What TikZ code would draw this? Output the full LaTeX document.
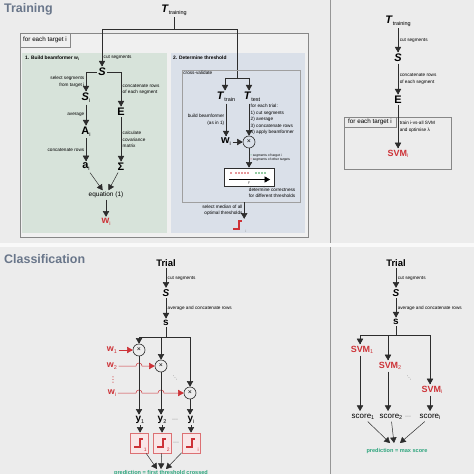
\documentclass[tikz,border=0pt]{standalone}
\usepackage{fontspec}
\setmainfont{Liberation Sans}
\newfontfamily\symfont{DejaVu Sans}
\usetikzlibrary{arrows}

\definecolor{bgc}{RGB}{236,236,236}
\definecolor{innerc}{RGB}{240,240,240}
\definecolor{gapc}{RGB}{249,249,249}
\definecolor{divc}{RGB}{150,150,150}
\definecolor{framec}{RGB}{135,135,135}
\definecolor{greenc}{RGB}{215,227,218}
\definecolor{bluec}{RGB}{218,224,233}
\definecolor{titlec}{RGB}{105,118,138}
\definecolor{wred}{RGB}{205,50,55}
\definecolor{tealc}{RGB}{45,165,125}
\definecolor{dotgreen}{RGB}{40,150,70}
\definecolor{linec}{RGB}{45,45,45}

\newcommand{\subtxt}[1]{\raisebox{-0.35ex}{\fontsize{5.5}{6}\selectfont\mdseries\upshape #1}}

\tikzset{
	title/.style = {font = \fontsize{12.5}{13}\selectfont\bfseries, text = titlec, inner sep = 0pt},
	head/.style = {font = \fontsize{4.9}{5.5}\selectfont\bfseries, inner sep = 0pt},
	lbl/.style = {font = \fontsize{4.7}{6.5}\selectfont, inner sep = 1.5pt},
	minilbl/.style = {font = \fontsize{3.3}{4}\selectfont, inner sep = 1.5pt, align = left},
	var/.style = {font = \fontsize{11}{12}\selectfont\bfseries, inner sep = 1.5pt},
	trialvar/.style = {font = \fontsize{9.5}{10}\selectfont\bfseries, inner sep = 1.5pt},
	svm/.style = {font = \fontsize{9}{10}\selectfont\bfseries, text = wred, inner sep = 1.5pt},
	score/.style = {font = \fontsize{8}{9}\selectfont, inner sep = 1.5pt},
	txt/.style = {font = \fontsize{6.5}{7}\selectfont, inner sep = 1.5pt},
	pred/.style = {font = \fontsize{5.6}{6}\selectfont\bfseries, text = tealc, inner sep = 0pt},
	tab/.style = {draw = framec, line width = 0.6pt, font = \fontsize{6.3}{7}\selectfont,
		inner sep = 2pt, anchor = north west},
	loopbox/.style = {draw = framec, line width = 0.6pt, inner sep = 0pt},
	mult/.style = {circle, draw = linec, line width = 0.6pt, minimum size = 12bp, inner sep = 0pt,
		font = \fontsize{7}{7}\selectfont},
	thbox/.style = {draw = wred!70, fill = wred!12, line width = 0.8pt, minimum width = 18bp,
		minimum height = 20bp, inner sep = 0pt},
	arr/.style = {-triangle 60, draw = linec, line width = 0.5pt},
	ln/.style = {draw = linec, line width = 0.5pt},
	ellip/.style = {font = \symfont\fontsize{6}{6}\selectfont, text = black!60, inner sep = 0pt},
	stepfn/.pic = {\draw[wred, line width = 1.2pt] (-5,4) -- (1,4) -- (1,-4) -- (4,-4);}
}

\begin{document}
\begin{tikzpicture}[x = 1bp, y = -1bp]
	\useasboundingbox (0,0) rectangle (474,474);

	% background
	\fill[bgc] (0,0) rectangle (474,474);
	\fill[gapc] (0,243) rectangle (474,247);
	\draw[divc, line width = 1bp] (330,0) -- (330,243) (330,247) -- (330,474);

	\node (training) at (4,9) [title, anchor = west] {Training};
	\node (classification) at (4,259) [title, anchor = west] {Classification};

	% training: beamformer and threshold
	\node (loop1) at (164,135) [loopbox, fill = innerc, minimum width = 288bp, minimum height = 204bp] {};
	\node (tab1) at (loop1.north west) [tab, minimum width = 50bp, minimum height = 14bp] {for each target i};
	\fill[greenc] (22,53) rectangle (167,233);
	\fill[bluec] (171,53) rectangle (305,233);
	\node (build) at (25,58) [head, anchor = west] {1. Build beamformer w\raisebox{-0.3ex}{\fontsize{3.5}{4}\selectfont i}};
	\node (determine) at (173,58) [head, anchor = west] {2. Determine threshold};

	\node (Ttr)  at (174, 10) [var] {\textit{T}\subtxt{training}};
	\coordinate (jt) at (174,29);
	\coordinate (jl) at (102,29);
	\coordinate (jr) at (237,29);
	\coordinate (jm) at (237,78);
	\coordinate (ja) at (225,78);
	\coordinate (jb) at (249,78);
	\draw[ln] (Ttr) -- (jt);
	\draw[ln] (jl) -- (jr) -- (jm);
	\draw[ln] (ja) -- (jb);

	\node (S)   at (102, 72) [var] {\textit{S}};
	\node (Si)  at ( 86, 98) [var] {\textit{S}\subtxt{i}};
	\node (E)   at (121,112) [var] {E};
	\node (Ai)  at ( 86,132) [var] {A\subtxt{i}};
	\node (ai)  at ( 86,167) [var] {a\subtxt{i}};
	\node (Sig) at (121,167) [var] {Σ};
	\node (eq)  at (106,195) [txt] {equation (1)};
	\node (wi)  at (106,222) [var, text = wred, font = \fontsize{10}{11}\selectfont\bfseries] {w\subtxt{i}};

	\path (jl) edge [arr] node[lbl, right, pos = 0.75] {cut segments} (S);
	\draw[arr] (S.west) -| node[lbl, left, pos = 0.75, align = right] {select segments\\from target i} (Si);
	\draw[arr] (S.east) -| node[lbl, right, pos = 0.75, align = left] {concatenate rows\\of each segment} (E);

	\foreach \from/\txt/\to in {Si/average/Ai, Ai/concatenate rows/ai}
		\path (\from) edge [arr] node[lbl, left] {\txt} (\to);
	\path (E) edge [arr] node[lbl, right, align = left] {calculate\\covariance\\matrix} (Sig);

	\foreach \from/\to in {ai/eq, Sig/eq, eq/wi}
		\path (\from) edge [arr] (\to);

	% cross-validation
	\node (cv) at (241,136) [loopbox, draw = framec!80, minimum width = 118bp, minimum height = 132bp] {};
	\node (cvlbl) at (cv.north west) [lbl, anchor = north west] {cross-validate};

	\node (Ttrain) at (226, 97) [var] {\textit{T}\subtxt{train}};
	\node (Ttest)  at (252, 97) [var] {\textit{T}\subtxt{test}};
	\node (wb)     at (226,142) [var] {w\subtxt{i}};
	\node (mult)   at (249,142) [mult] {×};
	\node (thr)    at (249,177) [draw = linec, fill = white, line width = 0.7pt, minimum width = 50bp, minimum height = 18bp] {};
	\node (thrI)   at (238,225) [minimum width = 12bp, minimum height = 12bp, inner sep = 0pt] {};

	\draw[arr] (ja) -- (ja |- Ttrain.north);
	\draw[arr] (jb) -- (jb |- Ttest.north);
	\draw[arr] (Ttrain) -- node[lbl, left, align = right] {build beamformer\\(as in 1)} (wb);
	\draw[arr] (jb |- Ttest.south) -- node[lbl, right, align = left] {for each trial:\\1) cut segments\\2) average\\3) concatenate rows\\4) apply beamformer} (mult);
	\draw[arr] (wb) -- (mult);
	\draw[arr] (mult) -- node[minilbl, right] {{\color{dotgreen}•} segments of target i\\{\color{wred}•} segments of other targets} (thr);

	\foreach \x in {231,236,239,242,245,248}
		\fill[wred] (\x,173) circle (0.8);
	\foreach \x in {256,259,262,265}
		\fill[dotgreen] (\x,173) circle (0.8);
	\draw[-triangle 60, line width = 0.4pt] (229,179.5) -- (270,179.5);
	\node (yax) at (249,183) [minilbl] {y};

	\node (det) at (297,193) [lbl, anchor = east, align = right] {determine correctness\\for different thresholds};
	\draw[arr] (thrI.north east |- cv.south) -- node[lbl, left, align = right] {select median of all\\optimal thresholds} (thrI.north east);
	\path (thrI) pic {stepfn};
	\node (thrIs) at (246,231) [minilbl, text = black!50] {i};

	% training: SVM
	\node (Ttr2) at (398, 21) [var] {\textit{T}\subtxt{training}};
	\node (S2)   at (398, 58) [var] {\textit{S}};
	\node (E2)   at (398,100) [var] {E};
	\node (loop2) at (397.5,143) [loopbox, minimum width = 107bp, minimum height = 52bp] {};
	\node (tab2) at (loop2.north west) [tab, minimum width = 52bp, minimum height = 9bp] {for each target i};
	\node (SVMt) at (398,154) [svm] {SVM\subtxt{i}};

	\foreach \from/\txt/\to in {Ttr2/cut segments/S2, S2/{concatenate rows\\of each segment}/E2, E2/{train i-vs-all SVM\\and optimise λ}/SVMt}
		\path (\from) edge [arr] node[lbl, right, align = left] {\txt} (\to);

	% classification: beamformer
	\node (trial) at (166,263) [trialvar] {Trial};
	\node (S3)    at (166,293) [var, font = \fontsize{10}{11}\selectfont\bfseries] {\textit{S}};
	\node (s3)    at (166,323) [var, font = \fontsize{10}{11}\selectfont\bfseries] {s};
	\foreach \from/\txt/\to in {trial/cut segments/S3, S3/average and concatenate rows/s3}
		\path (\from) edge [arr] node[lbl, right] {\txt} (\to);

	\coordinate (jc)  at (166,337);
	\coordinate (jc1) at (139,337);
	\coordinate (jc2) at (161,337);
	\coordinate (jc3) at (190,337);
	\draw[ln] (s3) -- (jc);
	\draw[ln] (jc1) -- (jc3);

	\node (m1) at (139,350) [mult] {×};
	\node (m2) at (161,366) [mult] {×};
	\node (m3) at (190,393) [mult] {×};
	\node (w1) at (112,350) [var, text = wred, font = \fontsize{9}{10}\selectfont\bfseries] {w\subtxt{1}};
	\node (w2) at (112,366) [var, text = wred, font = \fontsize{9}{10}\selectfont\bfseries] {w\subtxt{2}};
	\node (vd) at (113,380) [ellip, text = wred, font = \symfont\fontsize{8}{8}\selectfont] {⋮};
	\node (w3) at (112,393) [var, text = wred, font = \fontsize{9}{10}\selectfont\bfseries] {w\subtxt{i}};
	\node (dd) at (175,378) [ellip, font = \symfont\fontsize{5}{5}\selectfont] {⋱};

	\foreach \from/\to in {jc1/m1, jc2/m2, jc3/m3}
		\path (\from) edge [arr] (\to);
	\draw[arr, draw = wred] (w1) -- (m1);
	\draw[arr, draw = wred] (w2) -- (136,366) .. controls (136,362) and (142,362) .. (142,366) -- (m2);
	\draw[arr, draw = wred] (w3) -- (136,393) .. controls (136,389) and (142,389) .. (142,393)
		-- (158,393) .. controls (158,389) and (164,389) .. (164,393) -- (m3);

	\node (y1) at (140,420) [var, font = \fontsize{10}{11}\selectfont\bfseries] {y\subtxt{1}};
	\node (y2) at (162,420) [var, font = \fontsize{10}{11}\selectfont\bfseries] {y\subtxt{2}};
	\node (yc) at (175,420) [ellip] {⋯};
	\node (y3) at (191,420) [var, font = \fontsize{10}{11}\selectfont\bfseries] {y\subtxt{i}};

	\node (b1) at (139,443) [thbox] {};
	\node (b2) at (162,443) [thbox] {};
	\node (bc) at (176,443) [ellip] {⋯};
	\node (b3) at (191,443) [thbox] {};
	\foreach \b/\i in {b1/1, b2/2, b3/i} {
		\path (\b) pic {stepfn};
		\node (\b s) at (\b.south east) [anchor = south east, inner sep = 1.5pt, text = wred,
			font = \fontsize{5}{5}\selectfont] {\i};
	}

	\foreach \from/\to in {m1/y1, m2/y2, m3/y3, y1/b1, y2/b2, y3/b3}
		\path (\from) edge [arr] (\from |- \to.north);

	\coordinate (pl1) at (157,469);
	\coordinate (pl2) at (161,469);
	\coordinate (pl3) at (166,469);
	\foreach \from/\to in {b1/pl1, b2/pl2, b3/pl3}
		\path (\from) edge [arr] (\to);
	\node (predL) at (161,470.5) [pred, anchor = north] {prediction = first threshold crossed};

	% classification: SVM
	\node (trial2) at (396,263) [trialvar] {Trial};
	\node (S4)     at (396,293) [var, font = \fontsize{10}{11}\selectfont\bfseries] {\textit{S}};
	\node (s4)     at (396,322) [var, font = \fontsize{10}{11}\selectfont\bfseries] {s};
	\foreach \from/\txt/\to in {trial2/cut segments/S4, S4/average and concatenate rows/s4}
		\path (\from) edge [arr] node[lbl, right] {\txt} (\to);

	\coordinate (jd)  at (396,335);
	\coordinate (jd1) at (360,335);
	\coordinate (jd2) at (388,335);
	\coordinate (jd3) at (430,335);
	\draw[ln] (s4) -- (jd);
	\draw[ln] (jd1) -- (jd3);

	\node (svm1) at (362,350) [svm] {SVM\subtxt{1}};
	\node (svm2) at (390,366) [svm] {SVM\subtxt{2}};
	\node (dd2)  at (409,378) [ellip, font = \symfont\fontsize{5}{5}\selectfont] {⋱};
	\node (svm3) at (432,390) [svm] {SVM\subtxt{i}};

	\node (sc1) at (363,417) [score] {score\subtxt{1}};
	\node (sc2) at (391,417) [score] {score\subtxt{2}};
	\node (scc) at (408,417) [ellip] {⋯};
	\node (sc3) at (430,417) [score] {score\subtxt{i}};
	\node (pred2) at (397,451) [pred] {prediction = max score};

	\foreach \from/\to in {jd1/svm1, jd2/svm2, jd3/svm3}
		\path (\from) edge [arr] (\from |- \to.north);
	\foreach \from/\to in {jd1/svm1, jd2/svm2, jd3/svm3}
		\path (\from |- \to.south) edge [arr] (\from |- 0,411);

	\coordinate (pr1) at (390,443);
	\coordinate (pr2) at (394,443);
	\coordinate (pr3) at (400,443);
	\foreach \from/\to in {sc1/pr1, sc2/pr2, sc3/pr3}
		\path (\from) edge [arr] (\to);

\end{tikzpicture}
\end{document}
